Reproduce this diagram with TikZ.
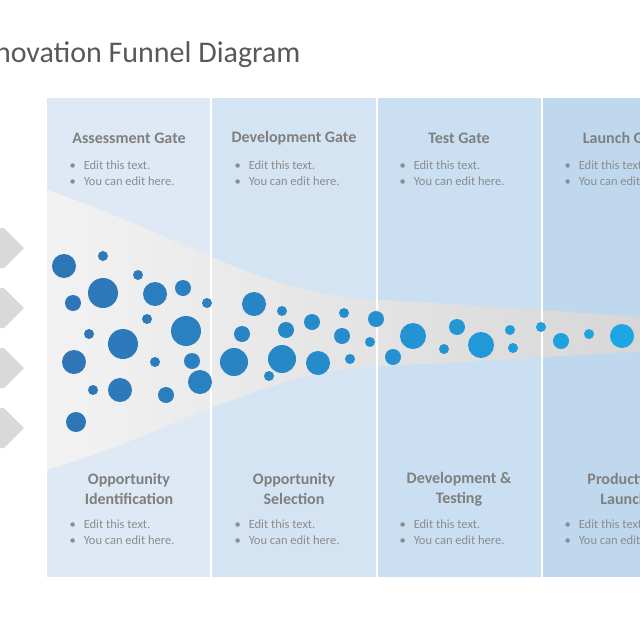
\documentclass[tikz,border=0pt]{standalone}
\usepackage{fontspec}
\setmainfont{Carlito}
\definecolor{colA}{HTML}{DEE9F5}
\definecolor{colB}{HTML}{D4E4F3}
\definecolor{colC}{HTML}{CADFF1}
\definecolor{colD}{HTML}{C0D8EE}
\definecolor{dotA}{HTML}{2E75B6}
\definecolor{dotB}{HTML}{1DA5E4}
\definecolor{headc}{HTML}{7F7F7F}
\definecolor{txtc}{HTML}{8C8C8C}
\definecolor{arrc}{HTML}{D9D9D9}
\begin{document}
\begin{tikzpicture}[x=1pt,y=-1pt,
  head/.style={font=\bfseries\fontsize{16}{20}\selectfont,text=headc,align=center},
  bul/.style={font=\fontsize{12.5}{15}\selectfont,text=txtc,anchor=west},
  arr/.style={fill=arrc}]
\useasboundingbox (0,0) rectangle (640,640);
\clip (0,0) rectangle (640,640);
\fill[white] (0,0) rectangle (640,640);
\node[anchor=base east,font=\fontsize{30}{34}\selectfont,text=black!65] (title) at (304,62) {Innovation Funnel Diagram};
% columns
\fill[colA] (47,98) rectangle (211,577);
\fill[colB] (211,98) rectangle (377,577);
\fill[colC] (377,98) rectangle (542,577);
\fill[colD] (542,98) rectangle (660,577);
% funnel
\shade[left color=black!5,right color=black!16]
 (47,190) .. controls (180,235) and (260,295) .. (380,300)
 .. controls (480,305) and (560,312) .. (660,318) -- (660,350)
 .. controls (560,356) and (480,362) .. (380,366)
 .. controls (260,372) and (180,430) .. (47,470) -- cycle;
\foreach \xx in {211,377,542}{\draw[white,line width=1.2pt] (\xx,98) -- (\xx,577);}
% arrows
\foreach \yy in {248,308,368,428}{\fill[arr] (-5,\yy-20) -- (4,\yy-20) -- (24,\yy) -- (4,\yy+20) -- (-5,\yy+20) -- cycle;}
% bubbles
\foreach \x/\y/\r in {64/266/12,103/256/5,73/303/8,103/293/15,138/275/5,155/294/12,183/288/8,207/303/5,89/334/5,123/344/15,147/319/5,186/331/15,74/362/12,155/362/5,192/361/8,93/390/5,120/390/12,166/395/8,200/382/12,76/422/10,
254/304/12,282/311/5,312/322/8,344/313/5,242/334/8,286/330/8,342/336/8,234/362/14,282/359/14,318/363/12,350/359/5,269/376/5,376/319/8,370/342/5,
413/336/13,393/357/8,457/327/8,444/349/5,481/345/13,510/330/5,513/348/5,541/327/5,561/341/8,589/334/5,622/336/12}{
  \pgfmathtruncatemacro\p{min(100,max(0,10*(\x-60)/56))}
  \fill[dotB!\p!dotA] (\x,\y) circle (\r);}
% headings
\node[head] (h1) at (129,138) {Assessment Gate};
\node[head] (h2) at (294,138) {Development Gate};
\node[head] (h3) at (459,138) {Test Gate};
\node[head] (h4) at (624,138) {Launch Gate};
\node[head] (b1) at (129,489) {Opportunity\\Identification};
\node[head] (b2) at (294,489) {Opportunity\\Selection};
\node[head] (b3) at (459,489) {Development \&\\Testing};
\node[head] (b4) at (624,489) {Production\\Launch};
\foreach \cx [count=\i] in {66,231,396,561}{
  \node[bul] (t\i a) at (\cx,165) {•\hspace{8pt}Edit this text.};
  \node[bul] (t\i b) at (\cx,181) {•\hspace{8pt}You can edit here.};
  \node[bul] (u\i a) at (\cx,524) {•\hspace{8pt}Edit this text.};
  \node[bul] (u\i b) at (\cx,540) {•\hspace{8pt}You can edit here.};
}
\end{tikzpicture}
\end{document}
